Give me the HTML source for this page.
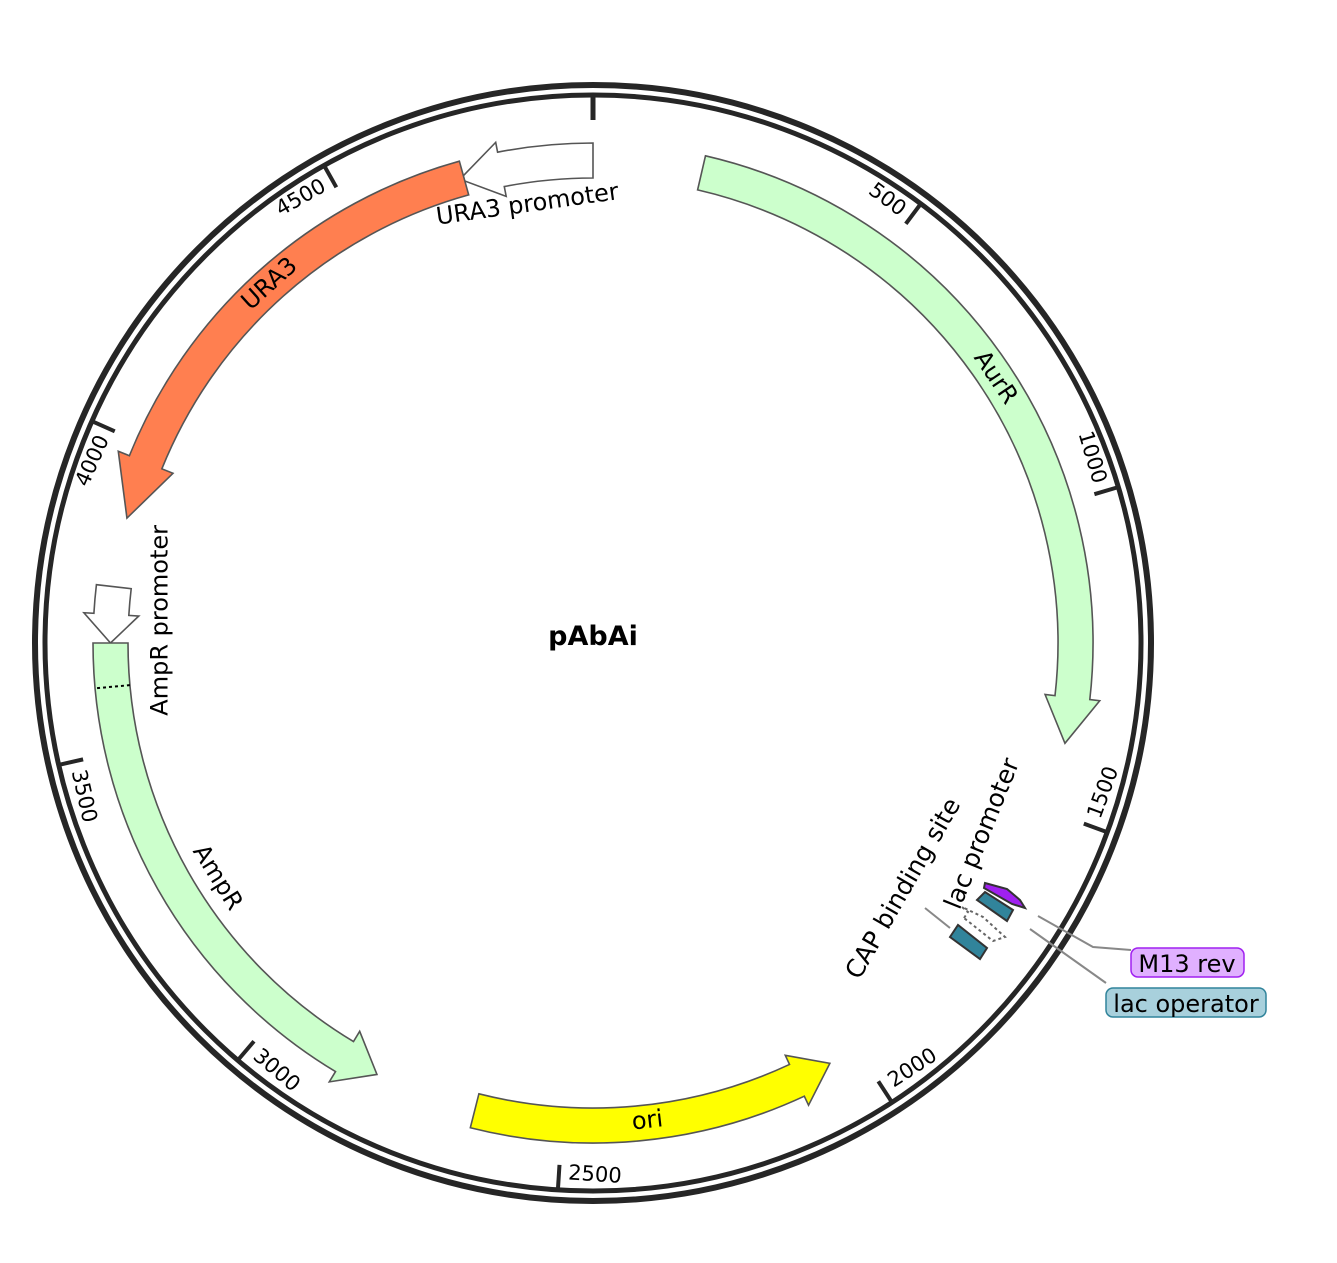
<!DOCTYPE html>
<html><head><meta charset="utf-8"><style>
html,body{margin:0;padding:0;background:#fff}
svg text{font-family:"DejaVu Sans","Liberation Sans",sans-serif}
</style></head><body>
<svg id="s" width="1337" height="1258" viewBox="0 0 1337 1258" xmlns="http://www.w3.org/2000/svg">
<rect width="1337" height="1258" fill="#fff"/>
<circle cx="593" cy="643" r="558" fill="none" stroke="#262626" stroke-width="6"/>
<circle cx="593" cy="643" r="548" fill="none" stroke="#262626" stroke-width="5"/>
<g id="g"></g>
<text x="593" y="645" font-size="27" font-weight="bold" text-anchor="middle">pAbAi</text>
<line x1="925" y1="908" x2="950" y2="928" stroke="#888" stroke-width="2"/>
<polyline points="1038,916 1093,947 1131,950" fill="none" stroke="#888" stroke-width="2"/>
<line x1="1030" y1="929" x2="1106" y2="983" stroke="#888" stroke-width="2"/>
<polygon points="985,883 1007,889 1020,900 1025,908 1012,904 984,888" fill="#a020f0" stroke="#333" stroke-width="2"/>
<polygon points="977,900 985,892 1013,910 1007,921" fill="#31849b" stroke="#333" stroke-width="2"/>
<polygon points="964,918 968,912 962,907 983,917 1005,937 993,941" fill="#fff" stroke="#666" stroke-width="2" stroke-dasharray="3,3"/>
<polygon points="950,937 958,925 987,948 980,959" fill="#31849b" stroke="#333" stroke-width="2"/>
<rect x="1131" y="948" width="113" height="29" rx="7" fill="#e0b0ff" stroke="#a020f0" stroke-width="1.5"/>
<text x="1187" y="972" font-size="24" text-anchor="middle">M13 rev</text>
<rect x="1106" y="988" width="160" height="29" rx="7" fill="#a8d0dc" stroke="#31849b" stroke-width="1.5"/>
<text x="1186" y="1012" font-size="24" text-anchor="middle">lac operator</text>
</svg>
<script>
var cx=593,cy=643,T=4900,g=document.getElementById('g'),NS='http://www.w3.org/2000/svg';
function P(a,r){var t=a*Math.PI/180;return [cx+r*Math.sin(t),cy-r*Math.cos(t)];}
function add(tag,at){var e=document.createElementNS(NS,tag);for(var k in at)e.setAttribute(k,at[k]);g.appendChild(e);return e;}
function arc(a1,a2,r){var p=P(a2,r),sw=a2>a1?1:0,lg=Math.abs(a2-a1)>180?1:0;return ' A'+r+' '+r+' 0 '+lg+' '+sw+' '+p[0].toFixed(1)+' '+p[1].toFixed(1);}
function feat(a0,ab,at,ri,ro,hi,ho,fill){
 var p=P(a0,ro),d='M'+p[0]+' '+p[1]+arc(a0,ab,ro);
 var q=P(ab,ho);d+=' L'+q+' ';q=P(at,(ri+ro)/2);d+=' L'+q;q=P(ab,hi);d+=' L'+q;q=P(ab,ri);d+=' L'+q;
 d+=arc(ab,a0,ri)+' Z';
 add('path',{d:d,fill:fill,stroke:'#555','stroke-width':1.6});
}
feat(13,96.5,102,465,500,455,510,'#ccffcc');
feat(0,-11,-16,465,500,455,510,'#ffffff');
feat(-15.5,-68,-75,465,500,453,512,'#ff7f50');
feat(-83.3,-86.6,-90,465,500,455,510,'#ffffff');
feat(-90,-149,-153.4,465,500,453,512,'#ccffcc');
feat(194.2,155,150.6,465,500,455,510,'#ffff00');
var d1=P(-95.2,465),d2=P(-95.2,500);
add('line',{x1:d1[0],y1:d1[1],x2:d2[0],y2:d2[1],stroke:'#000','stroke-width':2,'stroke-dasharray':'3,3'});
for(var k=0;k<T;k+=500){var a=k/T*360,p1=P(a,547),p2=P(a,523);
 add('line',{x1:p1[0],y1:p1[1],x2:p2[0],y2:p2[1],stroke:'#262626','stroke-width':k==0?5:4});
 if(k>0){var flip=(a>90&&a<270),lp=P(a-1,531),rot=flip?a-180:a;
  var t=add('text',{x:lp[0],y:lp[1],'font-size':21,'text-anchor':flip?'start':'end','dominant-baseline':'middle',transform:'rotate('+rot+' '+lp[0]+' '+lp[1]+')'});t.textContent=k;}}
function lab(txt,a,r,rot,fs){var p=P(a,r);var t=add('text',{x:p[0],y:p[1],'font-size':fs||24,'text-anchor':'middle','dominant-baseline':'middle',transform:'rotate('+rot+' '+p[0]+' '+p[1]+')'});t.textContent=txt;}
lab('AurR',56.6,482,56);
lab('URA3',-42,483,-42);
lab('URA3 promoter',-8.5,443,-8);
lab('AmpR promoter',-87,433,-90);
lab('AmpR',238,443,58);
lab('ori',173.5,481,-6.5);
var t=add('text',{x:983,y:834,'font-size':25,'text-anchor':'middle','dominant-baseline':'middle',transform:'rotate(-68 983 834)'});t.textContent='lac promoter';
t=add('text',{x:904,y:889,'font-size':25,'text-anchor':'middle','dominant-baseline':'middle',transform:'rotate(-60 904 889)'});t.textContent='CAP binding site';
</script>
</body></html>
